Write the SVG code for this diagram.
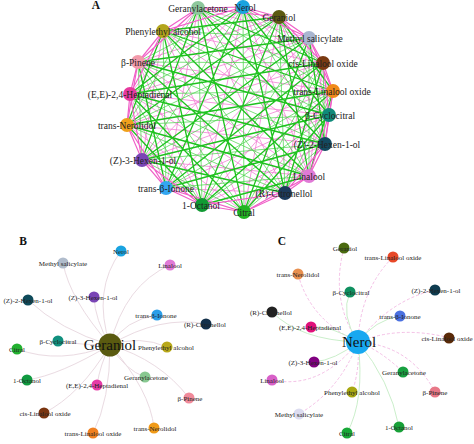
<svg xmlns="http://www.w3.org/2000/svg" width="474" height="444" viewBox="0 0 474 444">
<style>
text{font-family:"Liberation Serif","Times New Roman",serif;fill:#222;text-anchor:middle}
.la{font-size:9.5px}
.ls{font-size:7px}
.big{font-size:15px;fill:#111}
.pl{font-size:11.5px;font-weight:bold;fill:#111}
.pa{fill:none;stroke:#f060c8;stroke-width:1.2}
.pb{fill:none;stroke:#f27ad4;stroke-width:0.9;opacity:0.85}
.ga{fill:none;stroke:#1fc21f;stroke-width:1.3}
.gb{fill:none;stroke:#4ad44a;stroke-width:0.9;opacity:0.8}
.eb{fill:none;stroke:#eadbe2;stroke-width:1}
.ec{fill:none;stroke:#f2b8e2;stroke-width:0.9;stroke-dasharray:3 2}
.eg{fill:none;stroke:#c4ecc4;stroke-width:0.9}
</style>
<rect width="474" height="444" fill="#fff"/>
<text class="pl" x="96" y="9">A</text>
<text class="pl" x="23" y="245">B</text>
<text class="pl" x="282" y="245">C</text>
<g id="connectors">
<g id="edges-a">
<path class="pb" d="M198 8L309 38M198 8L329 115M198 8L285 193M198 8L166 188M198 8L130 94M243 7L333 91M243 7L309 176M243 7L202 205M243 7L127 125M279 17L325 144M279 17L244 212M279 17L142 160M279 17L138 62M309 38L329 115M309 38L285 193M309 38L166 188M309 38L130 94M323 63L309 176M323 63L202 205M323 63L127 125M323 63L163 31M333 91L244 212M333 91L142 160M333 91L138 62M329 115L285 193M329 115L166 188M329 115L130 94M325 144L202 205M325 144L127 125M325 144L163 31M309 176L142 160M309 176L138 62M285 193L166 188M285 193L130 94M244 212L127 125M244 212L163 31M202 205L138 62M166 188L130 94M142 160L163 31"/>
<path class="gb" d="M198 8L333 91M198 8L309 176M198 8L202 205M198 8L127 125M243 7L323 63M243 7L325 144M243 7L244 212M243 7L142 160M243 7L138 62M279 17L329 115M279 17L285 193M279 17L166 188M279 17L130 94M309 38L309 176M309 38L202 205M309 38L127 125M309 38L163 31M323 63L325 144M323 63L244 212M323 63L142 160M323 63L138 62M333 91L285 193M333 91L166 188M333 91L130 94M329 115L202 205M329 115L127 125M329 115L163 31M325 144L244 212M325 144L142 160M325 144L138 62M309 176L166 188M309 176L130 94M285 193L127 125M285 193L163 31M244 212L142 160M244 212L138 62M202 205L130 94M166 188L163 31M142 160L138 62"/>
<path class="ga" d="M198 8L323 63M198 8L325 144M198 8L244 212M198 8L142 160M243 7L329 115M243 7L285 193M243 7L166 188M243 7L130 94M279 17L333 91M279 17L309 176M279 17L202 205M279 17L127 125M279 17L163 31M309 38L325 144M309 38L244 212M309 38L142 160M309 38L138 62M323 63L285 193M323 63L166 188M323 63L130 94M333 91L309 176M333 91L202 205M333 91L127 125M333 91L163 31M329 115L244 212M329 115L142 160M329 115L138 62M325 144L166 188M325 144L130 94M309 176L202 205M309 176L127 125M309 176L163 31M285 193L142 160M285 193L138 62M244 212L130 94M202 205L127 125M202 205L163 31M166 188L138 62M127 125L163 31"/>
<path class="pa" d="M198 8L243 7L279 17L309 38L323 63L333 91L329 115L325 144L309 176L285 193L244 212L202 205L166 188L142 160L127 125L130 94L138 62L163 31Z"/>
<path class="pa" d="M198 8L279 17L323 63L329 115L309 176L244 212L166 188L127 125L138 62ZM243 7L309 38L333 91L325 144L285 193L202 205L142 160L130 94L163 31Z"/>
</g>
<g id="edges-b">
<path class="eb" d="M110 345Q92 290 121 251"/>
<path class="eb" d="M110 345Q70 300 63 263"/>
<path class="eb" d="M110 345Q60 330 28 300"/>
<path class="eb" d="M110 345Q95 320 94 297"/>
<path class="eb" d="M110 345Q125 285 170 265"/>
<path class="eb" d="M110 345Q125 320 157 315"/>
<path class="eb" d="M110 345Q160 315 206 324"/>
<path class="eb" d="M110 345Q80 345 58 341"/>
<path class="eb" d="M110 345Q60 365 17 349"/>
<path class="eb" d="M110 345Q60 375 27 380"/>
<path class="eb" d="M110 345Q100 365 97 385"/>
<path class="eb" d="M110 345Q80 395 44 413"/>
<path class="eb" d="M110 345Q110 400 93 433"/>
<path class="eb" d="M110 345Q140 335 167 347"/>
<path class="eb" d="M110 345Q125 370 145 377"/>
<path class="eb" d="M110 345Q160 360 189 398"/>
<path class="eb" d="M110 345Q150 390 154 428"/>
</g>
<g id="edges-c">
<path class="ec" d="M358 342Q330 300 344 248"/>
<path class="ec" d="M358 342Q310 320 298 274"/>
<path class="eg" d="M358 342Q340 315 350 292"/>
<path class="eg" d="M358 342Q300 340 272 312"/>
<path class="eg" d="M358 342Q330 325 311 327"/>
<path class="ec" d="M358 342Q360 290 393 257"/>
<path class="ec" d="M358 342Q390 300 435 290"/>
<path class="eg" d="M358 342Q375 320 400 316"/>
<path class="ec" d="M358 342Q400 325 450 338"/>
<path class="eg" d="M358 342Q335 360 314 362"/>
<path class="ec" d="M358 342Q320 390 272 380"/>
<path class="ec" d="M358 342Q360 370 352 392"/>
<path class="ec" d="M358 342Q340 390 299 414"/>
<path class="eg" d="M358 342Q365 400 347 433"/>
<path class="ec" d="M358 342Q380 350 403 372"/>
<path class="ec" d="M358 342Q410 345 435 392"/>
<path class="eg" d="M358 342Q390 380 399 427"/>
</g>
</g>
<g id="panel-a">
<g id="a-geranylacetone"><circle cx="198" cy="8" r="7" fill="#8dc79c"/><text class="la" x="198" y="11.5">Geranylacetone</text></g>
<g id="a-nerol"><circle cx="243" cy="7" r="7" fill="#1aa3e0"/><text class="la" x="245" y="10.5">Nerol</text></g>
<g id="a-geraniol"><circle cx="279" cy="17" r="7" fill="#5c5a12"/><text class="la" x="279" y="20.5">Geraniol</text></g>
<g id="a-methyl-salicylate"><circle cx="309" cy="38" r="7" fill="#a9b6d0"/><text class="la" x="310" y="41.5">Methyl salicylate</text></g>
<g id="a-cis-linalool-oxide"><circle cx="323" cy="63" r="7" fill="#7a3a12"/><text class="la" x="323" y="66.5">cis-Linalool oxide</text></g>
<g id="a-trans-linalool-oxide"><circle cx="333" cy="91" r="7" fill="#f08a1a"/><text class="la" x="332" y="94.5">trans-Linalool oxide</text></g>
<g id="a-b-cyclocitral"><circle cx="329" cy="115" r="7" fill="#0f8a7a"/><text class="la" x="330" y="118.5">β-Cyclocitral</text></g>
<g id="a-z2-hexenol"><circle cx="325" cy="144" r="7" fill="#134a60"/><text class="la" x="327" y="147.5">(Z)-2-Hexen-1-ol</text></g>
<g id="a-linalool"><circle cx="309" cy="176" r="7" fill="#e07ad6"/><text class="la" x="309" y="179.5">Linalool</text></g>
<g id="a-r-citronellol"><circle cx="285" cy="193" r="7" fill="#1c3b5c"/><text class="la" x="284" y="196.5">(R)-Citronellol</text></g>
<g id="a-citral"><circle cx="244" cy="212" r="7" fill="#22b422"/><text class="la" x="244" y="215.5">Citral</text></g>
<g id="a-1-octanol"><circle cx="202" cy="205" r="7" fill="#119a33"/><text class="la" x="201" y="208.5">1-Octanol</text></g>
<g id="a-trans-b-ionone"><circle cx="166" cy="188" r="7" fill="#33a6f0"/><text class="la" x="166" y="191.5">trans-β-Ionone</text></g>
<g id="a-z3-hexenol"><circle cx="142" cy="160" r="7" fill="#7a45b5"/><text class="la" x="143" y="163.5">(Z)-3-Hexen-1-ol</text></g>
<g id="a-trans-nerolidol"><circle cx="127" cy="125" r="7" fill="#f0a01c"/><text class="la" x="127" y="128.5">trans-Nerolidol</text></g>
<g id="a-ee-heptadienal"><circle cx="130" cy="94" r="7" fill="#e6399e"/><text class="la" x="130" y="97.5">(E,E)-2,4-Heptadienal</text></g>
<g id="a-b-pinene"><circle cx="138" cy="62" r="7" fill="#f29aaa"/><text class="la" x="138" y="65.5">β-Pinene</text></g>
<g id="a-phenylethyl-alcohol"><circle cx="163" cy="31" r="7" fill="#b3a51c"/><text class="la" x="163" y="34.5">Phenylethyl alcohol</text></g>
</g>
<g id="panel-b">
<g id="b-nerol"><circle cx="121" cy="251" r="5.5" fill="#1aa3e0"/><text class="ls" x="121" y="253.5">Nerol</text></g>
<g id="b-methyl-salicylate"><circle cx="63" cy="263" r="5.5" fill="#b0bccc"/><text class="ls" x="63" y="265.5">Methyl salicylate</text></g>
<g id="b-z2-hexenol"><circle cx="28" cy="300" r="5.5" fill="#0e4a5a"/><text class="ls" x="28" y="302.5">(Z)-2-Hexen-1-ol</text></g>
<g id="b-z3-hexenol"><circle cx="94" cy="297" r="5.5" fill="#7a45b5"/><text class="ls" x="93" y="299.5">(Z)-3-Hexen-1-ol</text></g>
<g id="b-linalool"><circle cx="170" cy="265" r="5.5" fill="#e07ad6"/><text class="ls" x="170" y="267.5">Linalool</text></g>
<g id="b-trans-b-ionone"><circle cx="157" cy="315" r="5.5" fill="#2a9ee8"/><text class="ls" x="156" y="317.5">trans-β-Ionone</text></g>
<g id="b-r-citronellol"><circle cx="206" cy="324" r="5.5" fill="#13304a"/><text class="ls" x="205" y="326.5">(R)-Citronellol</text></g>
<g id="b-b-cyclocitral"><circle cx="58" cy="341" r="5.5" fill="#11907e"/><text class="ls" x="58" y="343.5">β-Cyclocitral</text></g>
<g id="b-citral"><circle cx="17" cy="349" r="5.5" fill="#22b030"/><text class="ls" x="17" y="351.5">Citral</text></g>
<g id="b-1-octanol"><circle cx="27" cy="380" r="5.5" fill="#109a40"/><text class="ls" x="27" y="382.5">1-Octanol</text></g>
<g id="b-ee-heptadienal"><circle cx="97" cy="385" r="5.5" fill="#e63aa6"/><text class="ls" x="97" y="387.5">(E,E)-2,4-Heptadienal</text></g>
<g id="b-cis-linalool-oxide"><circle cx="44" cy="413" r="5.5" fill="#7a3510"/><text class="ls" x="45" y="415.5">cis-Linalool oxide</text></g>
<g id="b-trans-linalool-oxide"><circle cx="93" cy="433" r="5.5" fill="#f08020"/><text class="ls" x="93" y="435.5">trans-Linalool oxide</text></g>
<g id="b-phenylethyl-alcohol"><circle cx="167" cy="347" r="5.5" fill="#b8a81a"/><text class="ls" x="166" y="349.5">Phenylethyl alcohol</text></g>
<g id="b-geranylacetone"><circle cx="145" cy="377" r="5.5" fill="#88c890"/><text class="ls" x="146" y="379.5">Geranylacetone</text></g>
<g id="b-b-pinene"><circle cx="189" cy="398" r="5.5" fill="#f08a9a"/><text class="ls" x="190" y="400.5">β-Pinene</text></g>
<g id="b-trans-nerolidol"><circle cx="154" cy="428" r="5.5" fill="#f09a18"/><text class="ls" x="155" y="430.5">trans-Nerolidol</text></g>
<g id="b-geraniol"><circle cx="110" cy="345" r="11.5" fill="#5a5a10"/><text class="big" x="110" y="350">Geraniol</text></g>
</g>
<g id="panel-c">
<g id="c-geraniol"><circle cx="344" cy="248" r="5.5" fill="#4a6a10"/><text class="ls" x="345" y="250.5">Geraniol</text></g>
<g id="c-trans-nerolidol"><circle cx="298" cy="274" r="5.5" fill="#e89050"/><text class="ls" x="298" y="276.5">trans-Nerolidol</text></g>
<g id="c-b-cyclocitral"><circle cx="350" cy="292" r="5.5" fill="#109060"/><text class="ls" x="351" y="294.5">β-Cyclocitral</text></g>
<g id="c-r-citronellol"><circle cx="272" cy="312" r="5.5" fill="#222"/><text class="ls" x="271" y="314.5">(R)-Citronellol</text></g>
<g id="c-ee-heptadienal"><circle cx="311" cy="327" r="5.5" fill="#e0107a"/><text class="ls" x="310" y="329.5">(E,E)-2,4-Heptadienal</text></g>
<g id="c-trans-linalool-oxide"><circle cx="393" cy="257" r="5.5" fill="#e84828"/><text class="ls" x="393" y="259.5">trans-Linalool oxide</text></g>
<g id="c-z2-hexenol"><circle cx="435" cy="290" r="5.5" fill="#0e3c50"/><text class="ls" x="436" y="292.5">(Z)-2-Hexen-1-ol</text></g>
<g id="c-trans-b-ionone"><circle cx="400" cy="316" r="5.5" fill="#4a70e0"/><text class="ls" x="400" y="318.5">trans-β-Ionone</text></g>
<g id="c-cis-linalool-oxide"><circle cx="449" cy="338" r="5.5" fill="#5a2a08"/><text class="ls" x="447" y="340.5">cis-Linalool oxide</text></g>
<g id="c-z3-hexenol"><circle cx="314" cy="362" r="5.5" fill="#800080"/><text class="ls" x="313" y="364.5">(Z)-3-Hexen-1-ol</text></g>
<g id="c-linalool"><circle cx="272" cy="380" r="5.5" fill="#d860c8"/><text class="ls" x="272" y="382.5">Linalool</text></g>
<g id="c-phenylethyl-alcohol"><circle cx="352" cy="392" r="5.5" fill="#a8a810"/><text class="ls" x="352" y="394.5">Phenylethyl alcohol</text></g>
<g id="c-methyl-salicylate"><circle cx="299" cy="414" r="5.5" fill="#dcdcf0"/><text class="ls" x="299" y="416.5">Methyl salicylate</text></g>
<g id="c-citral"><circle cx="347" cy="433" r="5.5" fill="#18a838"/><text class="ls" x="347" y="435.5">Citral</text></g>
<g id="c-geranylacetone"><circle cx="403" cy="372" r="5.5" fill="#18a040"/><text class="ls" x="404" y="374.5">Geranylacetone</text></g>
<g id="c-b-pinene"><circle cx="435" cy="392" r="5.5" fill="#e87888"/><text class="ls" x="435" y="394.5">β-Pinene</text></g>
<g id="c-1-octanol"><circle cx="399" cy="427" r="5.5" fill="#18a038"/><text class="ls" x="399" y="429.5">1-Octanol</text></g>
<g id="c-nerol"><circle cx="358" cy="342" r="12" fill="#18a8f0"/><text class="big" x="359" y="347">Nerol</text></g>
</g>
</svg>
